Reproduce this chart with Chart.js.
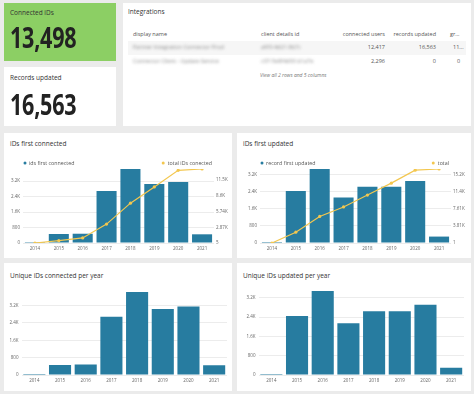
<!DOCTYPE html>
<html>
<head>
<meta charset="utf-8">
<script src="https://cdn.jsdelivr.net/npm/chart.js@4.4.1/dist/chart.umd.min.js"></script>
<style>
  html, body { margin: 0; padding: 0; }
  body { width: 474px; height: 394px; background: #ebebeb; position: relative; overflow: hidden;
         font-family: 'Open Sans', sans-serif; color: #333; }
  .panel { position: absolute; background: #fff; }
  .abs { position: absolute; white-space: nowrap; line-height: 1; }
  .title { font-size: 6.5px; color: #333; }
  .kpi-num { font-size: 28px; font-weight: 700; color: #222; transform: scaleX(0.77); transform-origin: 0 0; letter-spacing: -0.3px; }
  .tbl { font-size: 5.5px; color: #555; }
  .r { text-align: right; }
  .blur { color: #888; filter: blur(1.4px); }
  canvas { position: absolute; left: 0; }
</style>
</head>
<body>

<!-- KPI cards -->
<div class="panel" style="left:4px;top:3px;width:112px;height:58px;background:#8ccf64;">
  <div class="abs title" style="left:6px;top:7px;">Connected iDs</div>
  <div class="abs kpi-num" style="left:6px;top:20px;">13,498</div>
</div>
<div class="panel" style="left:4px;top:67px;width:112px;height:59px;">
  <div class="abs title" style="left:6px;top:8px;">Records updated</div>
  <div class="abs kpi-num" style="left:6px;top:23px;">16,563</div>
</div>

<!-- Integrations table -->
<div class="panel" style="left:123px;top:3px;width:348px;height:123px;">
  <div class="abs title" style="left:5px;top:6px;">Integrations</div>
  <div class="abs" style="left:5px;top:38px;width:338px;height:14px;background:#f6f6f6;"></div>
  <div class="abs tbl" style="left:10px;top:29px;">display name</div>
  <div class="abs tbl" style="left:138px;top:29px;">client details id</div>
  <div class="abs tbl r" style="left:200px;top:29px;width:62px;">connected users</div>
  <div class="abs tbl r" style="left:250px;top:29px;width:63px;">records updated</div>
  <div class="abs tbl" style="left:327px;top:29px;">gr...</div>

  <div class="abs tbl blur" style="left:10px;top:42px;">Partner Integration Connector Prod</div>
  <div class="abs tbl blur" style="left:138px;top:42px;">a9f3-4d21-8b7c</div>
  <div class="abs tbl r" style="left:200px;top:42px;width:62px;">12,417</div>
  <div class="abs tbl r" style="left:250px;top:42px;width:63px;">16,563</div>
  <div class="abs tbl" style="left:330px;top:42px;">11...</div>

  <div class="abs tbl blur" style="left:10px;top:56px;">Connector Client - Update Service</div>
  <div class="abs tbl blur" style="left:138px;top:56px;">c07-5e8f4d93-b1a7e</div>
  <div class="abs tbl r" style="left:200px;top:56px;width:62px;">2,296</div>
  <div class="abs tbl r" style="left:250px;top:56px;width:63px;">0</div>
  <div class="abs tbl" style="left:334px;top:56px;">0</div>

  <div class="abs tbl" style="left:137px;top:70px;font-style:italic;font-size:5px;color:#777;">View all 2 rows and 5 columns</div>
</div>

<!-- Chart panels -->
<div class="panel" style="left:4px;top:133px;width:228px;height:125px;">
  <div class="abs title" style="left:6px;top:8px;">iDs first connected</div>
  <canvas id="firstConnectedChart" width="228" height="106" style="top:17px;"></canvas>
</div>
<div class="panel" style="left:237px;top:133px;width:234px;height:125px;">
  <div class="abs title" style="left:6px;top:8px;">iDs first updated</div>
  <canvas id="firstUpdatedChart" width="234" height="106" style="top:17px;"></canvas>
</div>
<div class="panel" style="left:4px;top:263px;width:228px;height:128px;">
  <div class="abs title" style="left:6px;top:10px;">Unique iDs connected per year</div>
  <canvas id="uniqueConnectedChart" width="228" height="110" style="top:17px;"></canvas>
</div>
<div class="panel" style="left:237px;top:263px;width:234px;height:128px;">
  <div class="abs title" style="left:6px;top:10px;">Unique iDs updated per year</div>
  <canvas id="uniqueUpdatedChart" width="234" height="110" style="top:17px;"></canvas>
</div>

<script>
    // ── Data ─────────────────────────────────────────────────────────────────
    const years = ['2014', '2015', '2016', '2017', '2018', '2019', '2020', '2021'];
    const idsFirstConnected = [5, 465, 480, 2690, 3830, 3050, 3160, 450];
    const totalIdsConnected = [5, 430, 925, 3450, 7270, 10230, 13250, 13498];
    const recordFirstUpdated = [1, 2440, 3480, 2140, 2640, 2640, 2910, 302];
    const totalRecordsUpdated = [1, 2420, 5950, 8070, 10730, 13400, 16300, 16563];
    const countTicks = [0, 800, 1600, 2400, 3200];
    const connectedTotalTicks = [5, 2870, 5740, 8600, 11500];
    const updatedTotalTicks = [1, 3810, 7610, 11400, 15200];

    const BAR_COLOR = '#277ca0';
    const LINE_COLOR = '#f3c74f';
    const FONT = 'Open Sans';
    const TICK_FONT = { family: FONT, size: 4.5 };
    const TICK_COLOR = '#666';

    function fmtK(v) {
        if (Math.abs(v) < 1000) return String(v);
        return parseFloat((v / 1000).toPrecision(3)) + 'K';
    }

    // ── Legend split: bar item on the left, line item on the right ────────────
    const splitLegend = {
        id: 'splitLegend',
        afterDraw(chart, args, opts) {
            if (!opts.display) return;
            const ctx = chart.ctx;
            const area = chart.chartArea;
            ctx.save();
            ctx.font = '5.3px "' + FONT + '"';
            ctx.textBaseline = 'middle';
            chart.data.datasets.forEach(ds => {
                const color = ds.type === 'line' ? ds.borderColor : ds.backgroundColor;
                const w = ctx.measureText(ds.label).width;
                let dotX, textX;
                if (ds.type === 'line') {
                    textX = area.right - 2 - w;
                    dotX = textX - 4.5;
                } else {
                    dotX = area.left + 2;
                    textX = dotX + 4;
                }
                ctx.fillStyle = color;
                ctx.beginPath();
                ctx.arc(dotX, opts.y, 1.5, 0, Math.PI * 2);
                ctx.fill();
                ctx.fillStyle = '#555';
                ctx.fillText(ds.label, textX, opts.y);
            });
            ctx.restore();
        }
    };

    function xScale(height) {
        return {
            grid: { display: false, drawTicks: false },
            border: { display: false },
            ticks: { font: TICK_FONT, color: TICK_COLOR, padding: 3, maxRotation: 0, autoSkip: false },
            afterFit: s => { s.height = height; }
        };
    }

    function countScale(values, width) {
        return {
            position: 'left',
            min: 0,
            max: Math.max(...values),
            grid: { color: '#ececec', drawTicks: false },
            border: { display: false },
            afterBuildTicks: s => { s.ticks = countTicks.map(v => ({ value: v })); },
            ticks: { font: TICK_FONT, color: TICK_COLOR, padding: 3, callback: v => fmtK(v) },
            afterFit: s => { s.width = width; }
        };
    }

    // ── Bars + cumulative line ────────────────────────────────────────────────
    function comboChart(id, barLabel, bars, lineLabel, line, rightTicks, geo) {
        return new Chart(document.getElementById(id), {
            data: {
                labels: years,
                datasets: [{
                    type: 'line',
                    label: lineLabel,
                    data: line,
                    yAxisID: 'y1',
                    borderColor: LINE_COLOR,
                    backgroundColor: LINE_COLOR,
                    borderWidth: 1.2,
                    pointRadius: 1.6,
                    pointBorderWidth: 0,
                    tension: 0,
                    order: 0
                }, {
                    type: 'bar',
                    label: barLabel,
                    data: bars,
                    yAxisID: 'y',
                    backgroundColor: BAR_COLOR,
                    barPercentage: 0.84,
                    categoryPercentage: 1,
                    order: 1
                }]
            },
            options: {
                responsive: false,
                animation: false,
                layout: { padding: { top: geo.top, right: 0, left: 0, bottom: 0 } },
                plugins: {
                    legend: { display: false },
                    tooltip: { enabled: false },
                    splitLegend: { display: true, y: geo.legendY }
                },
                scales: {
                    x: xScale(geo.xHeight),
                    y: countScale(bars, geo.leftWidth),
                    y1: {
                        position: 'right',
                        min: Math.min(...line),
                        max: Math.max(...line),
                        grid: { display: false, drawTicks: false },
                        border: { display: false },
                        afterBuildTicks: s => { s.ticks = rightTicks.map(v => ({ value: v })); },
                        ticks: { font: TICK_FONT, color: TICK_COLOR, padding: 2, callback: v => fmtK(v) },
                        afterFit: s => { s.width = geo.rightWidth; }
                    }
                }
            },
            plugins: [splitLegend]
        });
    }

    // ── Plain bars ────────────────────────────────────────────────────────────
    function barChart(id, label, bars, geo) {
        return new Chart(document.getElementById(id), {
            type: 'bar',
            data: {
                labels: years,
                datasets: [{
                    label: label,
                    data: bars,
                    backgroundColor: BAR_COLOR,
                    barPercentage: 0.86,
                    categoryPercentage: 1
                }]
            },
            options: {
                responsive: false,
                animation: false,
                layout: { padding: { top: geo.top, right: geo.right, left: 0, bottom: 0 } },
                plugins: { legend: { display: false }, tooltip: { enabled: false } },
                scales: {
                    x: xScale(geo.xHeight),
                    y: countScale(bars, geo.leftWidth)
                }
            }
        });
    }

    comboChart('firstConnectedChart', 'ids first connected', idsFirstConnected,
        'total iDs conected', totalIdsConnected, connectedTotalTicks,
        { top: 19, legendY: 13, xHeight: 13, leftWidth: 19, rightWidth: 18 });

    comboChart('firstUpdatedChart', 'record first updated', recordFirstUpdated,
        'total', totalRecordsUpdated, updatedTotalTicks,
        { top: 19, legendY: 13, xHeight: 13, leftWidth: 23, rightWidth: 20 });

    barChart('uniqueConnectedChart', 'Unique iDs connected per year', idsFirstConnected,
        { top: 12, right: 5, xHeight: 15, leftWidth: 17.5 });

    barChart('uniqueUpdatedChart', 'Unique iDs updated per year', recordFirstUpdated,
        { top: 11, right: 7, xHeight: 15, leftWidth: 21.5 });
</script>
</body>
</html>
